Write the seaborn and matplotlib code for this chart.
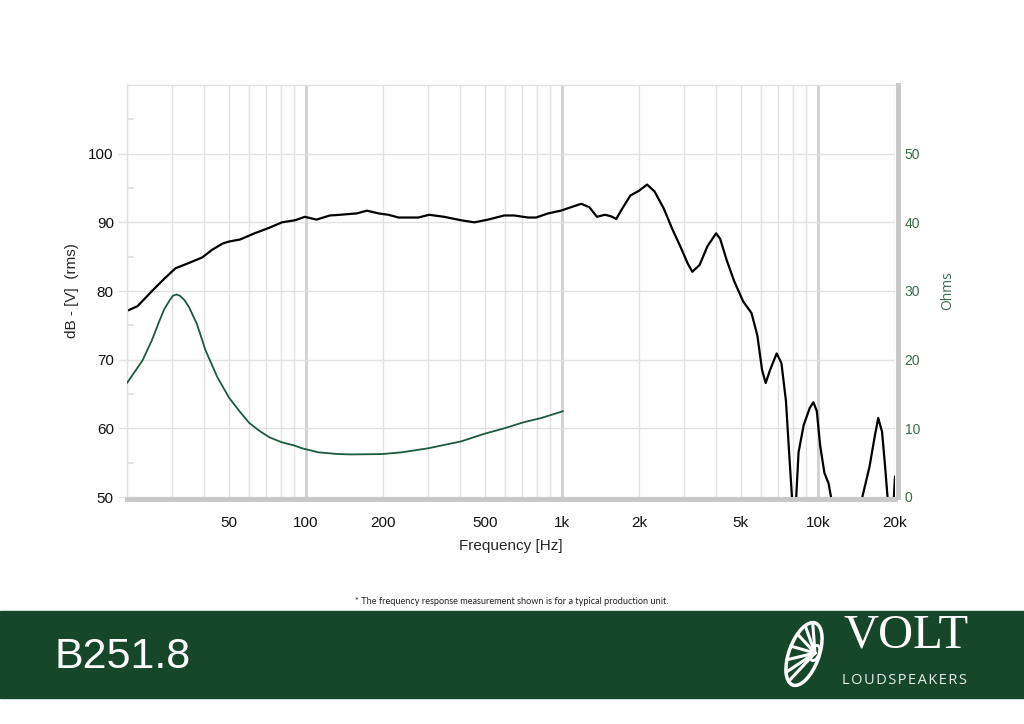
import numpy as np
import pandas as pd
import matplotlib
matplotlib.use("Agg")
import matplotlib.pyplot as plt
import seaborn as sns
from matplotlib.patches import Rectangle, Ellipse
from matplotlib.ticker import FixedLocator, FixedFormatter

# frequency response (dB)
spl_freq = [20, 22, 25.2, 28, 30.9, 35, 39.4, 43, 47.2, 50, 55.3, 63, 71.8, 80.6, 90.6, 99,
            110, 124, 136, 158, 173, 192, 210, 230, 275, 303, 347, 404, 455, 515, 595, 650,
            737, 792, 883, 990, 1085, 1190, 1280, 1370, 1470, 1550, 1630, 1720, 1850, 2000,
            2150, 2300, 2500, 2700, 2900, 3100, 3230, 3450, 3700, 4000, 4150, 4400, 4700,
            5100, 5500, 5800, 6050, 6250, 6500, 6900, 7200, 7500, 7700, 7900, 8050, 8200,
            8400, 8800, 9300, 9600, 9900, 10200, 10600, 11000, 11500, 12500, 14000, 14800,
            15900, 16700, 17200, 17800, 18300, 18700, 19200, 19500, 19800, 20000]
spl_db = [77.1, 77.8, 80.1, 81.8, 83.3, 84.1, 84.9, 86.0, 86.9, 87.2, 87.5, 88.4, 89.2, 90.0,
          90.3, 90.8, 90.4, 91.0, 91.1, 91.3, 91.7, 91.3, 91.1, 90.7, 90.7, 91.1, 90.8, 90.3,
          90.0, 90.4, 91.0, 91.0, 90.7, 90.7, 91.3, 91.7, 92.2, 92.7, 92.2, 90.8, 91.1, 90.9,
          90.5, 92.0, 93.9, 94.6, 95.5, 94.5, 92.0, 89.0, 86.5, 84.0, 82.8, 83.8, 86.5, 88.4,
          87.6, 84.5, 81.5, 78.5, 76.8, 73.5, 68.5, 66.6, 68.5, 70.9, 69.5, 64.0, 57.0, 50.5,
          46.0, 49.0, 56.5, 60.5, 63.0, 63.8, 62.5, 57.5, 53.5, 52.0, 48.0, 42.0, 45.0, 49.5,
          54.4, 59.0, 61.5, 59.5, 54.4, 50.0, 46.0, 45.0, 50.0, 53.0]

# impedance (ohms), measured up to 1 kHz
imp_freq = [20, 21.5, 23, 25, 26.8, 28, 29.3, 30.2, 31.2, 32.2, 33.5, 35, 37.5, 40.5, 45, 50,
            55, 60, 66, 72, 80, 90, 96.5, 112, 134, 150, 198, 236, 301, 404, 497, 595, 711,
            830, 1010]
imp_ohm = [16.6, 18.3, 19.9, 22.8, 25.7, 27.4, 28.6, 29.3, 29.5, 29.3, 28.7, 27.6, 25.2, 21.4,
           17.5, 14.5, 12.5, 10.8, 9.6, 8.7, 8.0, 7.5, 7.1, 6.5, 6.25, 6.2, 6.25, 6.5, 7.1,
           8.1, 9.2, 10.0, 10.9, 11.5, 12.5]

x_ticks = [50, 100, 200, 500, 1000, 2000, 5000, 10000, 20000]
x_tick_labels = ["50", "100", "200", "500", "1k", "2k", "5k", "10k", "20k"]
db_ticks = [50, 60, 70, 80, 90, 100]
ohm_ticks = [0, 10, 20, 30, 40, 50]

model = "B251.8"
note = "* The frequency response measurement shown is for a typical production unit."

green = "#16472a"
ohm_green = "#3b6b4a"
grid_c = "#e2e2e2"
bar_c = "#c8c8c8"

sns.set_style("white")
plt.rcParams["font.family"] = ["Liberation Sans", "DejaVu Sans"]

spl = pd.DataFrame({"freq": spl_freq, "db": spl_db})
imp = pd.DataFrame({"freq": imp_freq, "ohm": imp_ohm})

fig = plt.figure(figsize=(10.24, 7.24), dpi=100)
ax = fig.add_axes([127 / 1024, 1 - 497 / 724, 768 / 1024, 412 / 724])

sns.lineplot(data=spl, x="freq", y="db", ax=ax, color="black", lw=1.6,
             sort=False, estimator=None)
ax.set_xscale("log")
ax.set_xlim(20, 20000)
ax.set_ylim(50, 110)

# grid: decades thicker, others thin
decades = [100, 1000, 10000]
minors = [m * 10 ** e for e in (1, 2, 3) for m in range(2, 10) if m * 10 ** e not in decades]
minors.append(20000)
ax.xaxis.set_major_locator(FixedLocator(decades))
ax.xaxis.set_major_formatter(FixedFormatter(["100", "1k", "10k"]))
ax.xaxis.set_minor_locator(FixedLocator(minors))
minor_labels = [x_tick_labels[x_ticks.index(v)] if v in x_ticks else "" for v in minors]
ax.xaxis.set_minor_formatter(FixedFormatter(minor_labels))
ax.grid(True, which="major", axis="x", color="#d0d0d0", lw=2)
ax.grid(True, which="minor", axis="x", color=grid_c, lw=1)
ax.grid(True, which="major", axis="y", color=grid_c, lw=1)
ax.tick_params(axis="x", which="both", length=0, pad=12, labelsize=11, labelcolor="#111111")

ax.set_yticks(db_ticks)
ax.set_yticks([55, 65, 75, 85, 95, 105], minor=True)
ax.tick_params(axis="y", which="major", length=6.5, width=1, color=grid_c, pad=3,
               labelsize=11, labelcolor="#111111")
ax.tick_params(axis="y", which="minor", direction="in", length=5, width=1.2, color="#dddddd")
ax.set_ylabel("dB - [V]  (rms)", fontsize=11, labelpad=7)

for s in ("left", "top"):
    ax.spines[s].set_color(grid_c)
    ax.spines[s].set_linewidth(1)
ax.spines["bottom"].set_color(bar_c)
ax.spines["bottom"].set_linewidth(3.5)
ax.spines["bottom"].set_position(("outward", 1.5))
ax.spines["right"].set_visible(False)

ax2 = ax.twinx()
sns.lineplot(data=imp, x="freq", y="ohm", ax=ax2, color="#1e5a3d", lw=1.3,
             sort=False, estimator=None)
ax2.set_ylim(0, 60)
ax2.set_yticks(ohm_ticks)
ax2.grid(False)
ax2.tick_params(axis="y", length=0, pad=5, labelsize=10, labelcolor=ohm_green)
for lab in ax2.get_yticklabels():
    lab.set_family(["Open Sans", "DejaVu Sans"])
ax2.set_ylabel("Ohms", color=ohm_green, fontsize=10, labelpad=14,
               family=["Open Sans", "DejaVu Sans"])
for s in ("left", "top", "bottom"):
    ax2.spines[s].set_visible(False)
ax2.spines["right"].set_color(bar_c)
ax2.spines["right"].set_linewidth(3.5)
ax2.spines["right"].set_position(("outward", 2))
ax.set_xlabel("Frequency [Hz]", fontsize=11, labelpad=7)

# footnote and footer band
fig.text(0.5, 1 - 601 / 724, note, ha="center", va="center", fontsize=6.6,
         family=["Lato", "DejaVu Sans"], color="#222222")
fig.add_artist(Rectangle((0, 26 / 724), 1, 87 / 724, transform=fig.transFigure,
                         color=green, zorder=0))
fig.text(55 / 1024, 1 - 657 / 724, model, ha="left", va="center", fontsize=31, color="white")
fig.text(906 / 1024, 1 - 648 / 724, "VOLT", ha="center", va="baseline", fontsize=35,
         color="white", family=["Liberation Serif", "DejaVu Serif"])
fig.text(904 / 1024, 1 - 680 / 724, "L O U D S P E A K E R S".replace(" ", "\u200a"),
         ha="center", va="center", fontsize=10.5, color="#e8ede9",
         family=["Open Sans", "DejaVu Sans"])

# logo mark: tilted cone with spokes
lg = fig.add_axes([775 / 1024, 1 - 692 / 724, 60 / 1024, 76 / 724])
lg.set_xlim(0, 60)
lg.set_ylim(0, 76)
lg.axis("off")
cx, cy, w, h, ang = 29, 38, 30, 66, -20
lg.add_patch(Ellipse((cx, cy), w, h, angle=ang, fill=False, ec="white", lw=2.5))
hub = (40, 39)
a = np.deg2rad(ang)
for t in np.deg2rad([100, 125, 150, 175, 200, 225, 250]):
    px, py = w / 2 * np.cos(t), h / 2 * np.sin(t)
    ex = cx + px * np.cos(a) - py * np.sin(a)
    ey = cy + px * np.sin(a) + py * np.cos(a)
    lg.plot([hub[0], ex], [hub[1], ey], color="white", lw=2.2, solid_capstyle="round")
lg.add_patch(Ellipse(hub, 8, 16, angle=ang, fill=False, ec="white", lw=2))

fig.savefig("out.png", dpi=100, facecolor="white")
